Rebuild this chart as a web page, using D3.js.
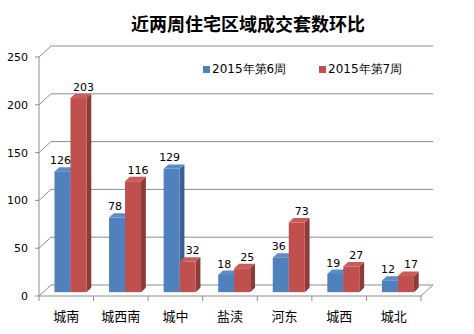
<!DOCTYPE html>
<html>
<head>
<meta charset="utf-8">
<script src="https://cdn.jsdelivr.net/npm/d3@7"></script>
<style>
  body { margin: 0; background: #fff; }
  svg { display: block; }
</style>
</head>
<body>
<svg id="chart"></svg>
<script>
// data
const categories = ['城南', '城西南', '城中', '盐渎', '河东', '城西', '城北'];
const week6 = [126, 78, 129, 18, 36, 19, 12];
const week7 = [203, 116, 32, 25, 73, 27, 17];
const seriesNames = ['2015年第6周', '2015年第7周'];
const yTicks = [0, 50, 100, 150, 200, 250];

const W = 474, H = 334;
const plot = {left: 39, right: 421, top: 57, bottom: 296};
const depth = {dx: 12, dy: -11};   // 3D offset of the back wall
const barFront = 0.35, barBack = 0.75; // where bars sit in depth
const colors = {
  front: ['#4F81BD', '#C0504D'],
  top: ['#5B8CC8', '#CB5C59'],
  side: ['#3A6194', '#8E3A38']
};
const gridColor = '#8c8c8c';
const font = '"DejaVu Sans", sans-serif';

const svg = d3.select('#chart').attr('width', W).attr('height', H);

const x = d3.scaleBand().domain(categories).range([plot.left, plot.right]);
const y = d3.scaleLinear().domain([0, 250]).range([plot.bottom, plot.top]);

// title
svg.append('text')
  .attr('x', 248).attr('y', 31)
  .attr('text-anchor', 'middle')
  .style('font-family', '"Noto Sans CJK SC", sans-serif')
  .style('font-weight', 'bold')
  .style('font-size', '18px')
  .text('近两周住宅区域成交套数环比');

const grid = svg.append('g')
  .attr('stroke', gridColor).attr('stroke-width', 1).attr('fill', 'none');

// back wall gridlines + left wall diagonals
yTicks.forEach(t => {
  if (t === 0) return;
  const yy = y(t);
  grid.append('line')
    .attr('x1', plot.left + depth.dx).attr('y1', yy + depth.dy)
    .attr('x2', plot.right + depth.dx).attr('y2', yy + depth.dy);
  grid.append('line')
    .attr('x1', plot.left).attr('y1', yy)
    .attr('x2', plot.left + depth.dx).attr('y2', yy + depth.dy);
});

// floor
const floor = [
  [plot.left, plot.bottom],
  [plot.right, plot.bottom],
  [plot.right + depth.dx, plot.bottom + depth.dy],
  [plot.left + depth.dx, plot.bottom + depth.dy]
];
grid.append('path').attr('d', d3.line()(floor) + 'Z');

// left axis line & ticks
grid.append('line')
  .attr('x1', plot.left).attr('y1', plot.top)
  .attr('x2', plot.left).attr('y2', plot.bottom);
yTicks.forEach(t => {
  grid.append('line')
    .attr('x1', plot.left - 4).attr('y1', y(t))
    .attr('x2', plot.left).attr('y2', y(t));
});
svg.append('g').selectAll('text').data(yTicks).join('text')
  .attr('x', plot.left - 11).attr('y', d => y(d) + 4)
  .attr('text-anchor', 'end')
  .style('font-family', font).style('font-size', '11px')
  .text(d => d);

// category ticks & labels
const boundaries = categories.map(c => x(c)).concat([plot.right]);
boundaries.forEach(bx => {
  grid.append('line')
    .attr('x1', bx).attr('y1', plot.bottom)
    .attr('x2', bx).attr('y2', plot.bottom + 5);
});
svg.append('g').selectAll('text').data(categories).join('text')
  .attr('x', d => x(d) + x.bandwidth() / 2)
  .attr('y', 321)
  .attr('text-anchor', 'middle')
  .style('font-family', '"Noto Sans CJK SC", sans-serif')
  .style('font-size', '13px')
  .text(d => d);

// bars
const barW = 16;
const fdx = depth.dx * barFront, fdy = depth.dy * barFront;
const bdx = depth.dx * (barBack - barFront), bdy = depth.dy * (barBack - barFront);
const rows = [];
categories.forEach((c, i) => {
  [week6[i], week7[i]].forEach((v, s) => {
    const x0 = x(c) + x.bandwidth() / 2 + fdx - barW + s * barW;
    rows.push({c, v, s, x0, y0: y(v) + fdy, yb: y(0) + fdy});
  });
});
// draw order: back-to-front is fine since bars don't overlap except by side faces
const bars = svg.append('g');
rows.forEach(d => {
  const g = bars.append('g');
  // side face
  g.append('path')
    .attr('d', d3.line()([
      [d.x0 + barW, d.y0], [d.x0 + barW + bdx, d.y0 + bdy],
      [d.x0 + barW + bdx, d.yb + bdy], [d.x0 + barW, d.yb]
    ]) + 'Z')
    .attr('fill', colors.side[d.s]);
  // top face
  g.append('path')
    .attr('d', d3.line()([
      [d.x0, d.y0], [d.x0 + bdx, d.y0 + bdy],
      [d.x0 + barW + bdx, d.y0 + bdy], [d.x0 + barW, d.y0]
    ]) + 'Z')
    .attr('fill', colors.top[d.s]);
  // front face
  g.append('rect')
    .attr('x', d.x0).attr('y', d.y0)
    .attr('width', barW).attr('height', d.yb - d.y0)
    .attr('fill', colors.front[d.s]);
});

// value labels
svg.append('g').selectAll('text').data(rows).join('text')
  .attr('x', d => d.x0 + barW / 2 + (d.s === 0 ? -2 : 5))
  .attr('y', d => d.y0 + bdy - 3)
  .attr('text-anchor', 'middle')
  .style('font-family', font).style('font-size', '11px')
  .text(d => d.v);

// legend
const legend = svg.append('g');
[203, 319].forEach((lx, i) => {
  legend.append('rect')
    .attr('x', lx).attr('y', 66).attr('width', 7).attr('height', 7)
    .attr('fill', colors.front[i]);
  legend.append('text')
    .attr('x', lx + 9).attr('y', 73)
    .style('font-family', font).style('font-size', '12px')
    .text(seriesNames[i]);
});
</script>
</body>
</html>
